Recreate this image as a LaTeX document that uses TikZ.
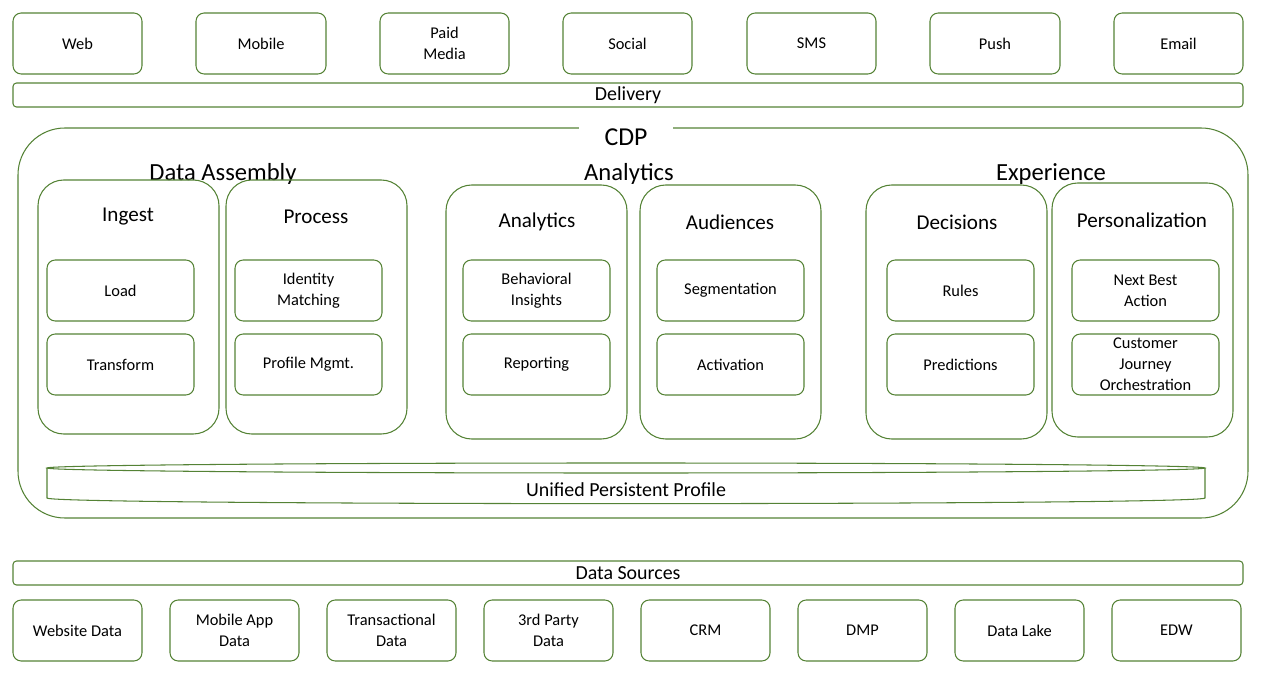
\documentclass[tikz,border=0pt]{standalone}
\usepackage{fontspec}
\setmainfont{Carlito}
\definecolor{gr}{RGB}{84,130,53}
\begin{document}
\begin{tikzpicture}[x=0.03cm,y=-0.03cm,
  base/.style={draw=gr,line width=0.9pt,align=center,inner sep=0pt,font=\fontsize{14}{18}\selectfont},
  box/.style={base,rounded corners=7pt},
  bar/.style={base,rounded corners=3pt,font=\fontsize{17}{19}\selectfont},
  panel/.style={draw=gr,line width=0.9pt,rounded corners=22pt},
  ptitle/.style={font=\fontsize{18}{21}\selectfont},
  stitle/.style={font=\fontsize{21}{24}\selectfont}]
\newcommand\bx[7][box]{\node[#1,minimum width={(#4-#2)*0.03cm},minimum height={(#5-#3)*0.03cm}] (#6) at ({(#2+#4)/2},{(#3+#5)/2}) {#7};}
\useasboundingbox (0,0) rectangle (1280,679);
% top row
\bx{13}{13}{142}{74}{web}{Web}
\bx{196}{13}{326}{74}{mob}{Mobile}
\bx{380}{13}{509}{74}{paid}{Paid\\Media}
\bx{563}{13}{692}{74}{soc}{Social}
\bx{747}{13}{876}{74}{sms}{SMS}
\bx{930}{13}{1060}{74}{push}{Push}
\bx{1114}{13}{1243}{74}{email}{Email}
\bx[bar]{13}{83}{1243}{107}{deliv}{Delivery}
% CDP
\draw[panel,rounded corners=40pt] (18,128) rectangle (1248,518);
\node[fill=white,inner xsep=22pt,inner ysep=2pt,font=\fontsize{22}{25}\selectfont] (cdp) at (626,137) {CDP};
\node[stitle] (sda) at (223,174) {Data Assembly};
\node[stitle] (san) at (629,174) {Analytics};
\node[stitle] (sex) at (1051,174) {Experience};
% panels
\draw[panel] (38,180) rectangle (219,434);
\draw[panel] (226,180) rectangle (407,434);
\draw[panel] (446,185) rectangle (627,439);
\draw[panel] (640,185) rectangle (821,439);
\draw[panel] (866,185) rectangle (1047,439);
\draw[panel] (1052,183) rectangle (1233,437);
\node[ptitle] (ting) at (128,217) {Ingest};
\node[ptitle] (tpro) at (316,217) {Process};
\node[ptitle] (tana) at (537,222) {Analytics};
\node[ptitle] (taud) at (730,222) {Audiences};
\node[ptitle] (tdec) at (957,222) {Decisions};
\node[ptitle] (tper) at (1142,220) {Personalization};
% inner boxes
\bx{47}{260}{194}{321}{load}{Load}
\bx{47}{334}{194}{395}{trans}{Transform}
\bx{235}{260}{382}{321}{idm}{Identity\\Matching}
\bx{235}{334}{382}{395}{prof}{Profile Mgmt.}
\bx{463}{260}{610}{321}{beh}{Behavioral\\Insights}
\bx{463}{334}{610}{395}{rep}{Reporting}
\bx{657}{260}{804}{321}{seg}{Segmentation}
\bx{657}{334}{804}{395}{act}{Activation}
\bx{887}{260}{1034}{321}{rules}{Rules}
\bx{887}{334}{1034}{395}{pred}{Predictions}
\bx{1072}{260}{1219}{321}{nba}{Next Best\\Action}
\bx{1072}{334}{1219}{395}{cjo}{Customer\\Journey\\Orchestration}
% cylinder
\draw[gr,line width=0.9pt] (626,468) ellipse [x radius=579,y radius=5];
\draw[gr,line width=0.9pt] (47,468) -- (47,498) .. controls (47,505.5) and (1205,505.5) .. (1205,498) -- (1205,468);
\node[font=\fontsize{17}{19}\selectfont] (upp) at (626,490) {Unified Persistent Profile};
% data sources
\bx[bar]{13}{561}{1243}{585}{ds}{Data Sources}
\bx{13}{600}{142}{661}{wd}{Website Data}
\bx{170}{600}{299}{661}{mad}{Mobile App\\Data}
\bx{327}{600}{456}{661}{td}{Transactional\\Data}
\bx{484}{600}{613}{661}{tpd}{3rd Party\\Data}
\bx{641}{600}{770}{661}{crm}{CRM}
\bx{798}{600}{927}{661}{dmp}{DMP}
\bx{955}{600}{1084}{661}{dl}{Data Lake}
\bx{1112}{600}{1241}{661}{edw}{EDW}
\end{tikzpicture}
\end{document}
